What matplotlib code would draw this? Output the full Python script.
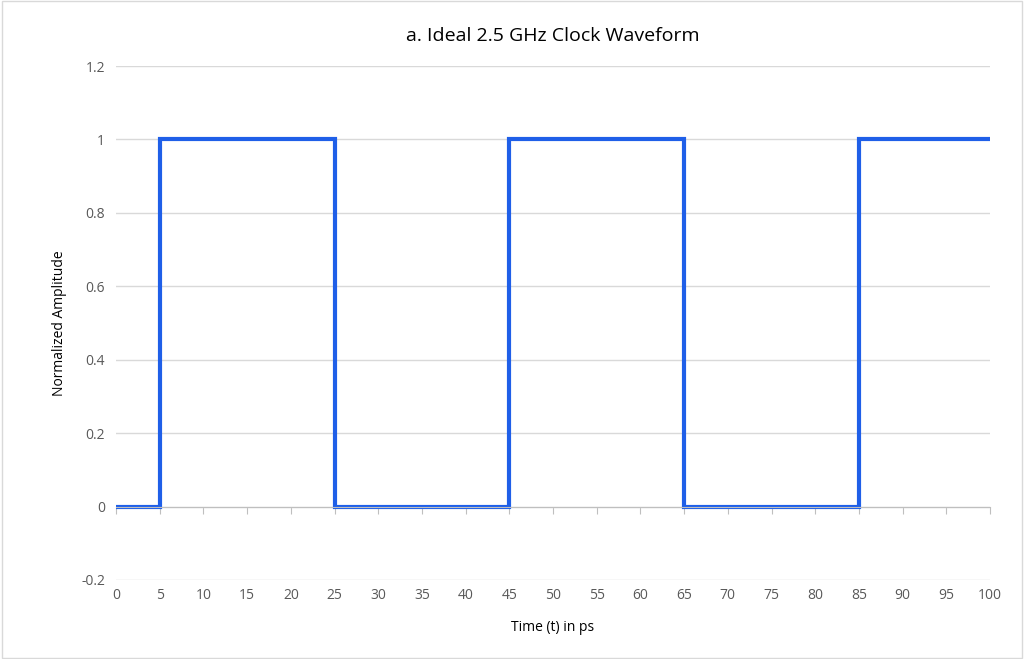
import matplotlib
matplotlib.use("Agg")
import matplotlib.pyplot as plt
from matplotlib.patches import Rectangle

t = [0, 5, 5, 25, 25, 45, 45, 65, 65, 85, 85, 100]
amp = [0, 0, 1, 1, 0, 0, 1, 1, 0, 0, 1, 1]
xticks = list(range(0, 101, 5))
yticks = [-0.2, 0, 0.2, 0.4, 0.6, 0.8, 1, 1.2]
ylabels = ["-0.2", "0", "0.2", "0.4", "0.6", "0.8", "1", "1.2"]

plt.rcParams['font.family'] = ['Open Sans', 'DejaVu Sans']
fig = plt.figure(figsize=(10.24, 6.59), dpi=100)
fig.patches.append(Rectangle((0.002, 0.002), 0.996, 0.996, transform=fig.transFigure,
                             fill=False, edgecolor='#d9d9d9', linewidth=1))
ax = fig.add_axes([0.1133, 0.1199, 0.8535, 0.7799])
ax.plot(t, amp, color='#1F5FE8', linewidth=3, solid_joinstyle='miter')
ax.set_xlim(0, 100)
ax.set_ylim(-0.2, 1.2)
ax.set_yticks(yticks)
ax.set_yticklabels(ylabels, fontsize=10, color='#595959')
ax.grid(axis='y', color='#d9d9d9', linewidth=1)
ax.set_axisbelow(True)
for s in ['top', 'right', 'left']:
    ax.spines[s].set_visible(False)
ax.spines['bottom'].set_position(('data', 0))
ax.spines['bottom'].set_color('#bfbfbf')
ax.set_xticks(xticks)
ax.tick_params(axis='x', direction='out', length=5, color='#bfbfbf', labelbottom=False)
ax.tick_params(axis='y', length=0, pad=8)
sec = ax.secondary_xaxis(0)
sec.set_xticks(xticks)
sec.set_xticklabels([str(v) for v in xticks], fontsize=10, color='#595959')
sec.tick_params(length=0, pad=6)
sec.spines['bottom'].set_visible(False)
sec.set_xlabel('Time (t) in ps', fontsize=10, color='black', labelpad=12)
ax.set_ylabel('Normalized Amplitude', fontsize=10, color='black', labelpad=10)
ax.set_title('a. Ideal 2.5 GHz Clock Waveform', fontsize=14, color='black', pad=18)
fig.savefig('out.png', dpi=100)
